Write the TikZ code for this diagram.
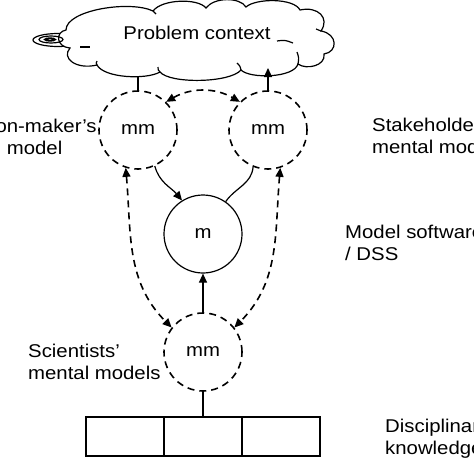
\documentclass[tikz,border=0pt]{standalone}
\usepackage{fontspec}
\setmainfont{Liberation Sans}[FakeStretch=1.1]
\usetikzlibrary{arrows.meta}

\begin{document}
\begin{tikzpicture}[x=1pt,y=-1pt,
  txt/.style={font=\fontsize{18.5}{22}\selectfont},
  lbl/.style={txt,align=left,anchor=north west,inner sep=0pt},
  mental/.style={circle,draw,dash pattern=on 7pt off 5pt,line width=1.6pt,minimum size=78pt,inner sep=0pt,txt},
  solidcirc/.style={circle,draw,line width=1.2pt,minimum size=78pt,inner sep=0pt,txt},
  cell/.style={draw,line width=1.2pt,minimum width=78pt,minimum height=39pt,inner sep=0pt},
  link/.style={line width=1.2pt},
  dlink/.style={line width=1.6pt,dash pattern=on 7pt off 5pt},
  tip/.style={-{Triangle[length=9pt,width=8pt]}},
  tips/.style={{Triangle[length=9pt,width=8pt]}-{Triangle[length=9pt,width=8pt]}}]
  \useasboundingbox (0,0) rectangle (474,474);

  % Cloud (problem context)
  \draw[link,fill=white] (58,40) ellipse (25 and 6.5);
  \draw[link,fill=white] (66,30) .. controls (66,10) and (130,0) .. (153,11)
    .. controls (162,-1) and (198,-2) .. (206,8)
    .. controls (214,-3) and (240,-3) .. (246,7)
    .. controls (256,-2) and (294,-2) .. (300,10)
    .. controls (318,6) and (330,18) .. (321,31)
    .. controls (338,34) and (338,52) .. (324,54)
    .. controls (326,66) and (306,70) .. (298,64)
    .. controls (294,78) and (250,79) .. (241,70)
    .. controls (230,83) and (170,84) .. (160,72)
    .. controls (146,80) and (104,78) .. (97,65)
    .. controls (76,70) and (61,58) .. (70,48)
    .. controls (56,47) and (55,32) .. cycle;
  % folds
  \draw[link] (80,47) -- (90,47);
  \draw[link] (97,65) .. controls (96,63) .. (97,61);
  \draw[link] (160,72) .. controls (158,70) .. (158,67);
  \draw[link] (241,70) .. controls (240,66) .. (237,63);
  \draw[link] (298,64) .. controls (299,58) .. (297,52);
  \draw[link] (277,41) .. controls (285,40) .. (293,43);
  \draw[link] (321,31) .. controls (319,30) .. (316,29);
  \draw[link] (153,11) .. controls (154,13) .. (156,14);
  \draw[link] (51,39.5) ellipse (12 and 3.5);
  \draw[line width=1.8pt] (50,39.5) ellipse (5 and 1.3);
  \node[txt] (ctx) at (197,33) {Problem context};
  \coordinate (cl) at (138,76);
  \coordinate (cr) at (268,68);

  % Mental models
  \node[mental] (lmm) at (138,130) {mm};
  \node[mental] (rmm) at (268,130) {mm};
  \node[solidcirc] (m) at (203,234) {m};
  \node[mental] (smm) at (203,352) {mm};

  % Disciplinary knowledge
  \node[cell] (k1) at (125,436.5) {};
  \node[cell] (k2) at (203,436.5) {};
  \node[cell] (k3) at (281,436.5) {};

  % Connectors
  \draw[link] (cl) -- (lmm.north);
  \draw[link,tip] (rmm.north) -- (cr);
  \draw[dlink,tips] (lmm.45) to[bend left=30] (rmm.135);
  \draw[link,tip] (lmm.-65) to[out=-75,in=130] (m.122);
  \draw[link] (m.55) to[out=55,in=-95] (rmm.-112);
  \draw[link,tip] (smm.north) -- (m.south);
  \draw[dlink,tips] (lmm.-108) to[out=-85,in=135] (smm.142);
  \draw[dlink,tips] (rmm.-72) to[out=-95,in=45] (smm.38);
  \draw[link] (smm.south) -- (k2.north);

  % Labels
  \node[lbl] (dm) at (-60,118.6) {Decision-maker’s\\mental model};
  \node[lbl] (sh) at (372,117.6) {Stakeholders’\\mental models};
  \node[lbl] (ms) at (345,224.6) {Model software\\/ DSS};
  \node[lbl] (sc) at (28,343.6) {Scientists’\\mental models};
  \node[lbl] (dk) at (385,418.6) {Disciplinary\\knowledge};
\end{tikzpicture}
\end{document}
